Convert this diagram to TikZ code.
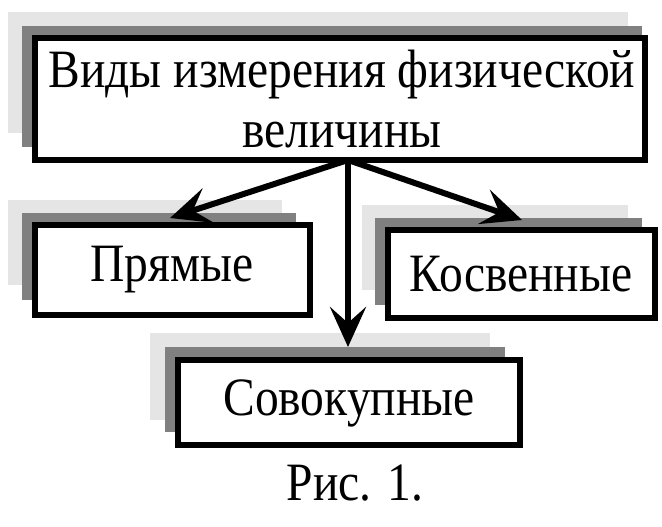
\documentclass[tikz,border=0pt]{standalone}
\usepackage{fontspec}
\setmainfont{Liberation Serif}
\usetikzlibrary{arrows.meta}
\tikzset{
  mainbox/.style={draw, line width=5.5pt, fill=white},
  lightsh/.style={fill=black!10},
  darksh/.style={fill=black!50},
  lbl/.style={font=\fontsize{54}{60}\selectfont, align=center},
  conn/.style={line width=6pt, -{Stealth[length=40pt,width=36pt,inset=16pt]}}
}
\begin{document}
\begin{tikzpicture}[x=1pt,y=-1pt]
\useasboundingbox (0,0) rectangle (662,527);
% top box
\fill[lightsh] (8,12) rectangle (628,133);
\fill[darksh] (22,26) rectangle (642,147);
\draw[mainbox] (35,38) rectangle (645,160);
\node[lbl] (top) at (342,99) {\scalebox{0.88}[1]{Виды измерения физической}\\\scalebox{0.88}[1]{величины}};
% left
\fill[lightsh] (8,200) rectangle (282,285);
\fill[darksh] (22,213) rectangle (296,300);
\draw[mainbox] (35,225) rectangle (310,315);
\node[lbl] (direct) at (172,270) {\scalebox{0.88}[1]{Прямые}};
% right
\fill[lightsh] (362,205) rectangle (628,290);
\fill[darksh] (375,218) rectangle (642,305);
\draw[mainbox] (388,230) rectangle (655,318);
\node[lbl] (indirect) at (521,274) {\scalebox{0.88}[1]{Косвенные}};
% bottom
\fill[lightsh] (150,333) rectangle (490,420);
\fill[darksh] (165,347) rectangle (505,432);
\draw[mainbox] (178,360) rectangle (520,445);
\node[lbl] (joint) at (349,403) {\scalebox{0.88}[1]{Совокупные}};
\coordinate (src) at (348,160);
\coordinate (dl) at (170,218);
\coordinate (dr) at (522,220);
\coordinate (db) at (348,347);
\draw[conn] (src) -- (dl);
\draw[conn] (src) -- (dr);
\draw[conn] (src) -- (db);
\node[lbl] (cap) at (355,483) {\scalebox{0.88}[1]{Рис. 1.}};
\end{tikzpicture}
\end{document}
